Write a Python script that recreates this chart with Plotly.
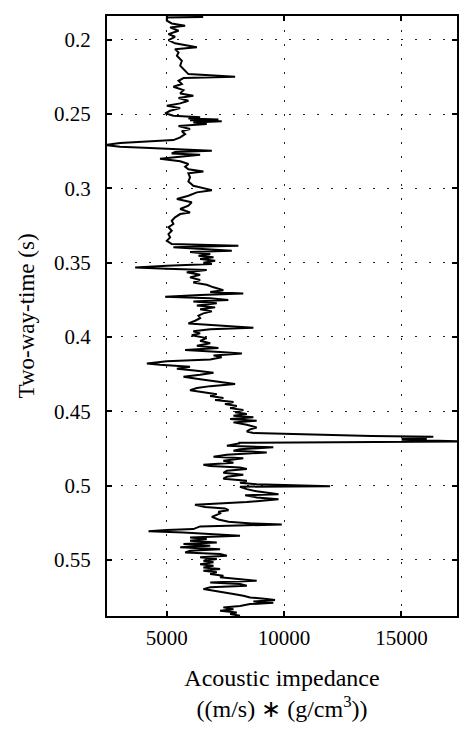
import plotly.graph_objects as go

time_s = [
    0.1846, 0.1850, 0.1872, 0.1890, 0.1906, 0.1917, 0.1939, 0.1962, 0.1980, 0.2002,
    0.2024, 0.2051, 0.2063, 0.2085, 0.2108, 0.2141, 0.2175, 0.2209, 0.2231, 0.2249,
    0.2258, 0.2276, 0.2298, 0.2316, 0.2339, 0.2361, 0.2377, 0.2392, 0.2410, 0.2428,
    0.2444, 0.2460, 0.2478, 0.2495,
    0.2511, 0.2522, 0.2529, 0.2536, 0.2542, 0.2549, 0.2556, 0.2567, 0.2581, 0.2601,
    0.2616, 0.2635, 0.2657, 0.2675, 0.2684, 0.2695, 0.2709, 0.2720, 0.2729, 0.2738,
    0.2747, 0.2756, 0.2765, 0.2774, 0.2785, 0.2801, 0.2818, 0.2836, 0.2855, 0.2872,
    0.2886, 0.2899, 0.2926, 0.2953, 0.2983, 0.3012, 0.3027, 0.3050, 0.3072, 0.3094,
    0.3117, 0.3139, 0.3162,
    0.3173, 0.3195, 0.3218, 0.3240, 0.3262, 0.3285, 0.3308, 0.3330, 0.3353, 0.3375,
    0.3386, 0.3397, 0.3409, 0.3420, 0.3429, 0.3442, 0.3454, 0.3464, 0.3476, 0.3487,
    0.3501, 0.3509, 0.3521, 0.3532, 0.3541, 0.3550, 0.3565, 0.3582, 0.3599, 0.3617,
    0.3633, 0.3649, 0.3666, 0.3685, 0.3698, 0.3707, 0.3718, 0.3730, 0.3740, 0.3752,
    0.3761, 0.3774, 0.3788, 0.3801, 0.3814, 0.3828, 0.3841,
    0.3857, 0.3873, 0.3891, 0.3909, 0.3918, 0.3929, 0.3938, 0.3949, 0.3962, 0.3976,
    0.3989, 0.4008, 0.4026, 0.4043, 0.4059, 0.4075, 0.4088, 0.4102, 0.4111, 0.4124,
    0.4137, 0.4151, 0.4164, 0.4178, 0.4187, 0.4201, 0.4214, 0.4228, 0.4241, 0.4255,
    0.4268, 0.4284, 0.4299, 0.4317, 0.4331, 0.4344, 0.4358, 0.4371, 0.4385, 0.4398,
    0.4411, 0.4425, 0.4438, 0.4452, 0.4465, 0.4479, 0.4492, 0.4506, 0.4519,
    0.4530, 0.4541, 0.4553, 0.4564, 0.4575, 0.4591, 0.4609, 0.4622, 0.4636, 0.4647,
    0.4667, 0.4672, 0.4678, 0.4685, 0.4692, 0.4703, 0.4712, 0.4716, 0.4732, 0.4743,
    0.4755, 0.4766, 0.4777, 0.4793, 0.4806, 0.4817, 0.4833, 0.4847, 0.4860, 0.4869,
    0.4878, 0.4889, 0.4901, 0.4914, 0.4928, 0.4941, 0.4954, 0.4968, 0.4981, 0.4992,
    0.5004, 0.5008, 0.5024, 0.5039, 0.5059, 0.5066, 0.5080, 0.5093, 0.5111, 0.5118,
    0.5129, 0.5145, 0.5154, 0.5166, 0.5177, 0.5188, 0.5211, 0.5228, 0.5244, 0.5255,
    0.5262, 0.5275, 0.5293, 0.5300, 0.5307, 0.5316, 0.5327, 0.5338, 0.5349, 0.5360,
    0.5372, 0.5383, 0.5394, 0.5405, 0.5416, 0.5428, 0.5439, 0.5450, 0.5461, 0.5473,
    0.5483, 0.5495, 0.5506, 0.5517, 0.5529, 0.5540, 0.5551, 0.5562, 0.5573, 0.5584,
    0.5596, 0.5607, 0.5618, 0.5629, 0.5641, 0.5652, 0.5663, 0.5675, 0.5685, 0.5697,
    0.5708, 0.5719, 0.5730, 0.5742, 0.5753, 0.5764, 0.5771, 0.5780, 0.5789, 0.5798,
    0.5810, 0.5820, 0.5832, 0.5843, 0.5854, 0.5865, 0.5876,
]

impedance = [
    6550, 5000, 5000, 5210, 5780, 5140, 5500, 5070, 5350, 5070,
    5350, 6280, 5350, 5500, 5430, 5640, 5570, 5780, 5920, 7910,
    5710, 5500, 5640, 5280, 5710, 5570, 6130, 5500, 5920, 5570,
    5000, 5570, 5140, 4930,
    5280, 6420, 5920, 7200, 5990, 7340, 6130, 6700, 5500, 5990,
    5640, 5780, 5570, 5280, 4290, 3010, 2350, 3010, 4290, 5710,
    6920, 5350, 5210, 6420, 5570, 4710, 5570, 5920, 5780, 5920,
    6560, 5920, 5990, 5920, 6130, 6920, 6280, 5920, 5430, 6060,
    5920, 5570, 5990,
    5570, 5350, 5210, 5280, 5070, 5210, 5070, 5140, 5000, 5210,
    8050, 5280, 6420, 7770, 5990, 6850, 6350, 6990, 6420, 7060,
    6560, 6920, 5000, 3650, 5000, 6700, 5850, 6420, 5990, 6420,
    6130, 6700, 6990, 7410, 6850, 8260, 6420, 4930, 6850, 7620,
    6130, 7130, 6280, 7060, 6420, 6920, 6560,
    6350, 6420, 6210, 5920, 6850, 7840, 8690, 6850, 6130, 6420,
    6060, 6700, 6420, 6850, 6280, 7200, 5780, 7270, 8200, 6990,
    7340, 6850, 5000, 4150, 4710, 5990, 5430, 6280, 6990, 6420,
    5710, 6420, 7130, 7910, 6850, 6280, 5990, 6560, 7130, 6850,
    7410, 7060, 7840, 7480, 7980, 7700, 8260, 7910, 8410,
    7840, 8690, 7700, 8830, 7840, 8410, 8830, 8550, 8410, 8690,
    13730, 16360, 15010, 16080, 15010, 17700, 8050, 8120, 7560, 9540,
    8120, 7840, 9260, 7560, 6990, 8260, 7410, 7840, 6560, 6850,
    8120, 8410, 7560, 7410, 8260, 7560, 7410, 8410, 8120, 8830,
    11960, 8120, 8410, 8830, 9760, 8340, 8830, 9760, 8410, 7340,
    6200, 6630, 7480, 7630, 7200, 7270, 6920, 7200, 7630, 8620,
    9900, 6420, 6130, 5000, 4220, 5710, 6850, 8120, 5990, 6700,
    5990, 7130, 5710, 6850, 5570, 7270, 5990, 5780, 7270, 7560,
    6420, 7130, 6560, 6990, 6420, 6990, 6560, 7270, 6560, 7130,
    6850, 7410, 7270, 8120, 8830, 6850, 8120, 8410, 6850, 6560,
    6990, 7560, 7840, 8260, 8550, 9260, 9610, 8690, 9540, 8550,
    8120, 7410, 7840, 7270, 7980, 7700, 8120,
]

x_ticks = [5000, 10000, 15000]
x_tick_labels = ["5000", "10000", "15000"]
y_ticks = [0.2, 0.25, 0.3, 0.35, 0.4, 0.45, 0.5, 0.55]
y_tick_labels = ["0.2", "0.25", "0.3", "0.35", "0.4", "0.45", "0.5", "0.55"]

FONT = "Liberation Serif"

fig = go.Figure()
fig.add_trace(go.Scatter(
    x=impedance, y=time_s, mode="lines",
    line=dict(color="black", width=2),
    hoverinfo="skip",
))

axis_common = dict(
    showline=True, linecolor="black", linewidth=2, mirror="ticks",
    ticks="inside", ticklen=5, tickwidth=1.5, tickcolor="black",
    showgrid=True, gridcolor="#222222", gridwidth=1.3, griddash="2px,12px",
    zeroline=False,
    tickfont=dict(family=FONT, size=21, color="black"),
)

fig.update_layout(
    width=474, height=738,
    margin=dict(l=107, r=17, t=16, b=122),
    paper_bgcolor="white", plot_bgcolor="white",
    showlegend=False,
    font=dict(family=FONT, color="black"),
    xaxis=dict(
        range=[2450, 17370],
        tickvals=x_ticks, ticktext=x_tick_labels,
        ticklabelstandoff=2,
        title=dict(text="Acoustic impedance<br>((m/s) \u2217 (g/cm<sup>3</sup>))",
                   font=dict(family=FONT, size=24, color="black"), standoff=20),
        **axis_common,
    ),
    yaxis=dict(
        range=[0.5878, 0.184],
        tickvals=y_ticks, ticktext=y_tick_labels,
        ticklabelstandoff=10,
        title=dict(text="Two-way-time (s)",
                   font=dict(family=FONT, size=23, color="black"), standoff=13),
        **axis_common,
    ),
)

fig.write_html("out.html")
